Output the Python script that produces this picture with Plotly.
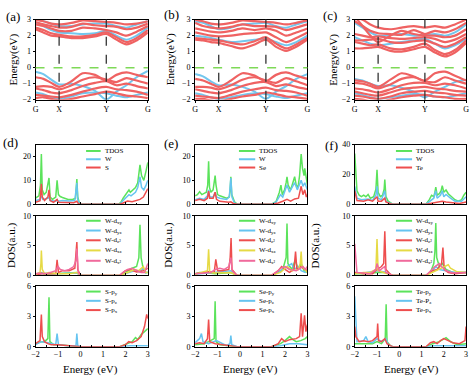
import plotly.graph_objects as go

# ---------------- data ----------------
KPATH_LABELS = ["G", "X", "Y", "G"]
KPATH_POS = [0.0, 0.21, 0.63, 1.0]
KP = [0, 0.07, 0.14, 0.21, 0.32, 0.42, 0.53, 0.63, 0.72, 0.81, 0.90, 1.0]

# (a) WS2 bands
A_RED = [
    [2.4, 2.2, 2.0, 1.95, 1.85, 1.85, 1.95, 2.1, 1.75, 1.45, 1.7, 2.2],
    [2.5, 2.35, 2.15, 2.05, 1.95, 1.95, 2.05, 2.2, 1.9, 1.6, 1.85, 2.35],
    [2.7, 2.6, 2.45, 2.3, 2.3, 2.5, 2.45, 2.35, 2.2, 2.0, 2.25, 2.6],
    [2.85, 2.7, 2.6, 2.5, 2.55, 2.75, 2.65, 2.6, 2.55, 2.4, 2.5, 2.75],
    [3.0, 2.9, 2.75, 2.7, 2.8, 2.95, 2.9, 2.85, 2.8, 2.7, 2.75, 2.9],
    [-0.6, -0.7, -0.95, -1.2, -0.85, -0.35, -0.45, -0.8, -0.45, -0.3, -0.45, -0.6],
    [-1.2, -1.15, -1.2, -1.35, -1.1, -0.75, -0.6, -0.75, -0.9, -0.65, -0.8, -1.0],
    [-1.3, -1.4, -1.55, -1.6, -1.4, -1.15, -0.95, -0.85, -1.1, -1.0, -1.15, -1.3],
    [-1.7, -1.75, -1.8, -1.85, -1.7, -1.5, -1.3, -1.2, -1.35, -1.4, -1.5, -1.7],
    [-1.9, -1.85, -1.95, -2.05, -1.95, -1.8, -1.65, -1.5, -1.6, -1.75, -1.8, -1.9],
]
A_BLUE = [
    [2.8, 2.6, 2.35, 2.2, 2.15, 2.1, 2.15, 2.3, 2.0, 1.75, 2.0, 2.5],
    [3.0, 2.9, 2.75, 2.6, 2.6, 2.7, 2.75, 2.75, 2.6, 2.5, 2.7, 2.9],
    [-0.25, -0.4, -0.75, -1.05, -1.0, -1.15, -1.45, -2.0, -1.5, -1.1, -0.6, -0.2],
    [-1.55, -1.65, -1.85, -1.95, -1.8, -1.6, -1.55, -1.6, -1.75, -1.85, -1.7, -1.55],
]
# (b) WSe2 bands
B_RED = [
    [1.75, 1.7, 1.6, 1.55, 1.35, 1.2, 1.45, 1.75, 1.3, 1.05, 1.3, 1.75],
    [1.85, 1.8, 1.75, 1.7, 1.55, 1.45, 1.65, 1.9, 1.5, 1.2, 1.45, 1.85],
    [2.2, 2.1, 2.0, 1.95, 2.0, 2.1, 2.15, 2.2, 1.9, 1.6, 1.85, 2.2],
    [2.45, 2.35, 2.25, 2.2, 2.3, 2.45, 2.35, 2.45, 2.3, 2.0, 2.2, 2.45],
    [2.8, 2.6, 2.5, 2.45, 2.55, 2.7, 2.6, 2.6, 2.55, 2.35, 2.5, 2.7],
    [3.0, 2.9, 2.75, 2.7, 2.8, 2.95, 2.9, 2.85, 2.8, 2.7, 2.8, 2.95],
    [-0.7, -0.8, -1.0, -1.2, -0.8, -0.35, -0.5, -0.85, -0.45, -0.3, -0.5, -0.7],
    [-1.2, -1.2, -1.25, -1.35, -1.1, -0.75, -0.6, -0.8, -0.95, -0.65, -0.85, -1.1],
    [-1.35, -1.45, -1.55, -1.6, -1.4, -1.15, -0.95, -0.9, -1.15, -1.05, -1.2, -1.35],
    [-1.75, -1.8, -1.85, -1.9, -1.7, -1.5, -1.35, -1.25, -1.4, -1.45, -1.55, -1.75],
    [-1.95, -1.95, -2.05, -2.1, -1.95, -1.8, -1.7, -1.55, -1.65, -1.8, -1.85, -1.95],
]
B_BLUE = [
    [2.0, 1.95, 1.85, 1.75, 1.6, 1.65, 1.75, 1.8, 1.6, 1.4, 1.6, 2.0],
    [2.9, 2.8, 2.6, 2.4, 2.5, 2.7, 2.75, 2.8, 2.6, 2.5, 2.7, 2.9],
    [-0.4, -0.55, -0.85, -1.1, -1.05, -1.2, -1.5, -1.95, -1.5, -1.15, -0.7, -0.4],
    [-1.6, -1.7, -1.85, -1.95, -1.85, -1.7, -1.6, -1.65, -1.8, -1.9, -1.75, -1.6],
]
# (c) WTe2 bands
C_RED = [
    [1.2, 1.2, 1.25, 1.3, 1.05, 1.0, 1.15, 1.3, 0.95, 0.7, 0.95, 1.55],
    [1.6, 1.5, 1.4, 1.45, 1.2, 1.15, 1.3, 1.5, 1.1, 0.85, 1.1, 1.7],
    [1.7, 1.7, 1.75, 1.8, 1.6, 1.55, 1.65, 1.7, 1.5, 1.3, 1.5, 1.9],
    [2.1, 2.0, 1.9, 1.95, 1.85, 1.8, 1.85, 1.9, 1.8, 1.6, 1.75, 2.1],
    [3.2, 2.6, 2.0, 1.6, 2.0, 2.3, 2.1, 2.0, 2.0, 1.9, 2.0, 2.4],
    [2.9, 2.6, 2.3, 2.15, 2.1, 2.05, 2.35, 2.1, 2.3, 2.2, 2.4, 2.8],
    [3.1, 3.0, 2.7, 2.5, 2.4, 2.5, 2.6, 2.5, 2.6, 2.5, 2.7, 3.0],
    [-0.8, -0.85, -1.0, -1.2, -0.75, -0.35, -0.55, -0.8, -0.35, -0.25, -0.5, -0.8],
    [-0.95, -1.0, -1.15, -1.3, -1.05, -0.7, -0.6, -0.85, -0.9, -0.6, -0.8, -1.0],
    [-1.3, -1.35, -1.45, -1.55, -1.35, -1.1, -0.95, -0.95, -1.1, -1.0, -1.1, -1.3],
    [-1.5, -1.6, -1.7, -1.75, -1.55, -1.35, -1.25, -1.2, -1.3, -1.35, -1.45, -1.5],
    [-1.75, -1.8, -1.9, -1.95, -1.8, -1.6, -1.5, -1.45, -1.55, -1.6, -1.7, -1.75],
    [-1.95, -2.0, -2.1, -2.15, -2.0, -1.85, -1.75, -1.7, -1.8, -1.85, -1.95, -1.95],
]
C_BLUE = [
    [1.9, 1.7, 1.5, 1.4, 1.5, 1.6, 1.7, 1.8, 1.5, 1.2, 1.4, 1.8],
    [2.8, 2.5, 2.2, 2.0, 2.05, 2.1, 2.0, 2.05, 2.1, 2.0, 2.2, 2.7],
    [-0.7, -0.8, -1.0, -1.15, -1.1, -1.25, -1.5, -1.85, -1.5, -1.2, -0.9, -0.75],
    [-1.6, -1.7, -1.85, -1.95, -1.85, -1.75, -1.65, -1.7, -1.8, -1.85, -1.75, -1.6],
]

# DOS curves: (energy eV, DOS) knots
D_TDOS = [(-2, 2.5), (-1.85, 3.5), (-1.78, 8), (-1.74, 21), (-1.70, 6), (-1.62, 4), (-1.52, 5), (-1.45, 8), (-1.40, 11), (-1.35, 3), (-1.25, 2), (-1.10, 3), (-1.04, 10), (-0.98, 4), (-0.9, 3.2), (-0.8, 2.8), (-0.7, 2.5), (-0.55, 2), (-0.35, 2), (-0.22, 2.5), (-0.16, 10.5), (-0.12, 3), (-0.05, 0.5), (0.0, 0), (1.7, 0), (1.8, 0.8), (1.9, 2.5), (2.0, 4), (2.1, 5), (2.16, 6), (2.22, 5), (2.35, 6), (2.45, 7), (2.55, 9), (2.65, 16.5), (2.72, 12), (2.82, 10), (2.92, 14), (3.0, 17.5)]
D_W = [(-2, 1.5), (-1.8, 2), (-1.74, 3.5), (-1.68, 2), (-1.45, 2.5), (-1.40, 3), (-1.35, 1.5), (-1.1, 1.2), (-1.04, 1.8), (-0.98, 1.2), (-0.8, 1.5), (-0.5, 1.3), (-0.25, 1.5), (-0.16, 9), (-0.12, 2), (-0.05, 0.3), (0, 0), (1.75, 0), (1.9, 1.5), (2.0, 2.5), (2.16, 4), (2.25, 3.5), (2.45, 5), (2.55, 7), (2.65, 11.5), (2.72, 7), (2.82, 6), (2.92, 8), (3.0, 10)]
D_S = [(-2, 0.8), (-1.8, 1.5), (-1.74, 8.5), (-1.70, 3), (-1.6, 1.5), (-1.45, 3), (-1.40, 6), (-1.35, 1.5), (-1.2, 0.8), (-1.04, 2), (-0.98, 0.8), (-0.7, 0.8), (-0.3, 0.6), (-0.16, 1.2), (-0.1, 0.3), (0, 0), (1.75, 0), (1.9, 0.5), (2.1, 1.3), (2.3, 1), (2.5, 1.5), (2.65, 2), (2.8, 3), (2.9, 4.5), (3.0, 6.5)]
D_DXY = [(-2, 0.2), (-1.74, 0.5), (-1.6, 0.2), (-1.0, 0.3), (-0.16, 0.5), (0, 0), (1.75, 0), (2.0, 0.5), (2.3, 1.2), (2.5, 1.5), (2.6, 3), (2.65, 8.5), (2.7, 3), (2.8, 1), (2.9, 0.5), (3.0, 0.5)]
D_DYZ = [(-2, 0.1), (-1.74, 0.3), (-1.4, 0.4), (-1.04, 0.3), (-0.16, 0.4), (0, 0), (1.75, 0), (2.1, 0.5), (2.4, 0.8), (2.65, 0.6), (2.8, 1.2), (2.9, 0.4), (3.0, 0.6)]
D_DZ2 = [(-2, 0.1), (-1.74, 0.3), (-1.1, 0.3), (-1.04, 2.6), (-0.98, 0.5), (-0.8, 0.8), (-0.5, 0.8), (-0.25, 1.2), (-0.16, 5.6), (-0.12, 1), (0, 0), (1.75, 0), (2.0, 0.8), (2.2, 1.0), (2.5, 0.6), (2.8, 0.8), (3.0, 1.2)]
D_DXZ = [(-2, 0.2), (-1.8, 0.5), (-1.76, 2), (-1.74, 4.2), (-1.70, 1), (-1.6, 0.3), (-1.4, 0.5), (-1.0, 0.3), (-0.5, 0.3), (-0.16, 0.5), (0, 0), (1.75, 0), (2.1, 0.5), (2.4, 1), (2.6, 0.8), (2.8, 1.5), (2.9, 0.5), (3.0, 0.5)]
D_DX2 = [(-2, 0.3), (-1.8, 0.4), (-1.5, 0.3), (-1.1, 0.8), (-1.0, 1.5), (-0.9, 1.0), (-0.7, 0.8), (-0.5, 1), (-0.3, 1.5), (-0.2, 2.5), (-0.16, 4.5), (-0.1, 0.5), (0, 0), (1.75, 0), (1.9, 0.5), (2.1, 1), (2.3, 1.2), (2.5, 0.8), (2.7, 0.5), (2.85, 0.5), (2.95, 1.5), (3.0, 2.0)]
D_PY = [(-2, 0.3), (-1.74, 0.5), (-1.6, 0.5), (-1.45, 0.8), (-1.40, 4.9), (-1.36, 0.5), (-1.2, 0.2), (-1.0, 0.2), (-0.5, 0.1), (0, 0), (1.75, 0), (2.1, 0.3), (2.3, 0.5), (2.45, 0.9), (2.55, 0.7), (2.7, 1.2), (2.85, 1.5), (3.0, 1.8)]
D_PZ = [(-2, 0.2), (-1.74, 0.5), (-1.45, 0.4), (-1.1, 0.2), (-1.04, 1.3), (-0.98, 0.2), (-0.6, 0.1), (-0.2, 0.1), (-0.16, 1.3), (-0.12, 0.1), (0, 0), (1.75, 0), (2.2, 0.1), (2.5, 0.1), (3.0, 0.1)]
D_PX = [(-2, 0.3), (-1.8, 0.6), (-1.74, 3.2), (-1.70, 1), (-1.6, 0.5), (-1.45, 0.3), (-1.3, 0.2), (-1.0, 0.2), (-0.5, 0.1), (0, 0), (1.75, 0), (2.0, 0.2), (2.15, 0.5), (2.3, 0.4), (2.5, 0.6), (2.7, 1), (2.85, 2), (2.95, 3.2), (3.0, 2.8)]

E_TDOS = [(-2, 3.5), (-1.9, 4), (-1.8, 5.2), (-1.7, 4), (-1.6, 4.5), (-1.5, 5), (-1.44, 8), (-1.40, 18), (-1.36, 7), (-1.3, 5), (-1.2, 6), (-1.14, 9), (-1.11, 12), (-1.07, 8), (-1.0, 4), (-0.9, 3.5), (-0.75, 3), (-0.6, 2.5), (-0.48, 3), (-0.44, 6), (-0.41, 11.5), (-0.37, 4), (-0.25, 1), (-0.13, 0), (1.4, 0), (1.6, 1), (1.75, 5), (1.82, 8), (1.88, 4), (1.98, 6), (2.05, 9), (2.09, 11.5), (2.14, 8), (2.25, 6), (2.35, 9), (2.43, 11.5), (2.5, 8), (2.58, 7), (2.65, 12), (2.72, 21), (2.78, 15), (2.85, 12), (2.88, 15), (2.95, 10), (3.0, 8)]
E_W = [(-2, 1.8), (-1.8, 2.5), (-1.6, 2), (-1.45, 3.5), (-1.40, 6), (-1.35, 3), (-1.2, 3), (-1.11, 5), (-1.05, 3), (-0.9, 2.5), (-0.6, 2), (-0.48, 3), (-0.41, 11), (-0.36, 3), (-0.25, 0.5), (-0.13, 0), (1.4, 0), (1.6, 0.8), (1.8, 4), (1.9, 3), (2.09, 8), (2.2, 5), (2.43, 9), (2.55, 6), (2.72, 10), (2.8, 7.5), (2.88, 9), (3.0, 6)]
E_SE = [(-2, 1.5), (-1.8, 2), (-1.6, 1.5), (-1.45, 2.5), (-1.40, 5.5), (-1.35, 2.5), (-1.2, 2.5), (-1.11, 5), (-1.05, 2), (-0.9, 1.2), (-0.5, 0.8), (-0.41, 1), (-0.3, 0.3), (-0.13, 0), (1.4, 0), (1.7, 0.5), (1.9, 1.2), (2.09, 2), (2.25, 1.3), (2.43, 2.2), (2.6, 2.5), (2.72, 7.5), (2.8, 4), (2.88, 6), (2.95, 3), (3.0, 4)]
E_DXY = [(-2, 0.3), (-1.8, 0.5), (-1.4, 0.4), (-1.1, 0.3), (-0.41, 0.5), (-0.13, 0), (1.4, 0), (1.7, 0.5), (1.9, 1), (2.05, 3), (2.09, 8.7), (2.13, 2), (2.3, 1), (2.45, 2.5), (2.6, 1), (2.72, 2), (2.85, 0.8), (3.0, 0.5)]
E_DYZ = [(-2, 0.2), (-1.7, 0.3), (-1.4, 0.5), (-1.1, 0.5), (-0.41, 0.8), (-0.13, 0), (1.4, 0), (1.8, 0.8), (2.09, 1.5), (2.3, 2), (2.4, 1), (2.6, 1.5), (2.72, 0.8), (2.9, 0.5), (3.0, 0.8)]
E_DZ2 = [(-2, 0.3), (-1.4, 0.6), (-1.15, 0.5), (-1.08, 2.7), (-1.0, 0.8), (-0.8, 0.8), (-0.5, 1), (-0.44, 3), (-0.40, 6.3), (-0.36, 1), (-0.13, 0), (1.4, 0), (1.7, 0.8), (1.85, 1.5), (2.0, 1), (2.2, 0.5), (2.4, 1), (2.47, 4), (2.53, 1), (2.7, 1.5), (2.9, 1), (3.0, 0.8)]
E_DXZ = [(-2, 0.2), (-1.45, 0.8), (-1.40, 4.4), (-1.35, 0.5), (-1.1, 0.4), (-0.41, 0.5), (-0.13, 0), (1.4, 0), (1.8, 0.5), (2.1, 1.5), (2.3, 0.8), (2.6, 1), (2.68, 2), (2.72, 4), (2.76, 1.5), (2.9, 1), (3.0, 0.5)]
E_DX2 = [(-2, 0.3), (-1.6, 0.4), (-1.3, 0.5), (-1.1, 1), (-0.9, 1.2), (-0.7, 1), (-0.5, 1.5), (-0.41, 3), (-0.35, 0.8), (-0.2, 0.2), (-0.13, 0), (1.4, 0), (1.6, 0.5), (1.8, 1.2), (2.0, 1.5), (2.2, 1), (2.5, 0.8), (2.8, 1.5), (2.9, 1), (3.0, 1.5)]
E_PY = [(-2, 0.2), (-1.6, 0.3), (-1.4, 0.5), (-1.15, 0.8), (-1.11, 4.5), (-1.07, 0.5), (-0.9, 0.2), (-0.5, 0.1), (-0.13, 0), (1.4, 0), (1.8, 0.3), (2.0, 0.6), (2.2, 1.0), (2.35, 0.7), (2.5, 0.5), (2.7, 0.6), (2.9, 0.8), (3.0, 1)]
E_PZ = [(-2, 0.4), (-1.8, 0.8), (-1.72, 1.3), (-1.65, 0.5), (-1.4, 0.3), (-1.15, 0.5), (-1.05, 0.6), (-0.6, 0.1), (-0.45, 0.3), (-0.41, 1.1), (-0.37, 0.2), (-0.13, 0), (1.4, 0), (1.8, 0.1), (2.2, 0.3), (2.6, 0.3), (3.0, 0.2)]
E_PX = [(-2, 0.3), (-1.8, 0.4), (-1.6, 0.3), (-1.45, 0.8), (-1.40, 2.7), (-1.35, 0.5), (-1.1, 0.3), (-0.8, 0.2), (-0.5, 0.1), (-0.13, 0), (1.4, 0), (1.7, 0.3), (1.85, 0.8), (2.0, 0.5), (2.2, 0.7), (2.5, 0.8), (2.65, 1), (2.72, 3.3), (2.78, 1), (2.87, 3.1), (2.93, 1.5), (3.0, 2.2)]

F_TDOS = [(-2, 34), (-1.95, 20), (-1.9, 9), (-1.8, 6), (-1.7, 5), (-1.6, 6), (-1.5, 5), (-1.4, 6.5), (-1.3, 4), (-1.15, 5), (-1.05, 10), (-1.0, 23), (-0.95, 8), (-0.85, 5), (-0.75, 6), (-0.68, 10), (-0.65, 16.5), (-0.6, 5), (-0.5, 2), (-0.4, 1), (-0.3, 0), (1.2, 0), (1.35, 3), (1.45, 6), (1.55, 5), (1.6, 8), (1.64, 11.5), (1.7, 6), (1.8, 7), (1.88, 9), (1.93, 12.5), (2.0, 8), (2.1, 9.5), (2.2, 7), (2.35, 5), (2.5, 3), (2.65, 2), (2.8, 3), (2.9, 6), (3.0, 8)]
F_W = [(-2, 12), (-1.95, 8), (-1.9, 4), (-1.7, 3), (-1.4, 3.5), (-1.2, 2.5), (-1.05, 6), (-1.0, 12), (-0.95, 4), (-0.8, 3), (-0.65, 9), (-0.6, 2), (-0.4, 0.5), (-0.3, 0), (1.2, 0), (1.4, 2), (1.55, 4), (1.64, 9), (1.7, 4), (1.85, 6), (1.93, 9), (2.0, 5), (2.1, 6.5), (2.3, 4), (2.5, 2), (2.8, 2), (3.0, 5)]
F_TE = [(-2, 9), (-1.95, 5), (-1.9, 2.5), (-1.6, 2), (-1.4, 3), (-1.2, 2), (-1.0, 5), (-0.95, 2), (-0.8, 2), (-0.65, 4), (-0.6, 1.5), (-0.4, 0.3), (-0.3, 0), (1.2, 0), (1.4, 0.5), (1.64, 1.5), (1.93, 2), (2.1, 1.5), (2.4, 1), (2.7, 0.5), (3.0, 1.5)]
F_DXY = [(-2, 0.3), (-1.6, 0.3), (-1.0, 0.5), (-0.65, 0.5), (-0.3, 0), (1.2, 0), (1.4, 0.5), (1.55, 2), (1.6, 4), (1.64, 8.8), (1.68, 3), (1.8, 1.5), (1.93, 2), (2.1, 1), (2.4, 0.5), (3.0, 0.5)]
F_DYZ = [(-2, 0.5), (-1.6, 0.4), (-1.0, 0.8), (-0.65, 0.6), (-0.3, 0), (1.2, 0), (1.5, 0.8), (1.64, 1.5), (1.8, 1), (2.1, 0.8), (2.5, 0.5), (3.0, 0.5)]
F_DZ2 = [(-2, 0.5), (-1.6, 0.3), (-1.2, 0.3), (-1.0, 1), (-0.8, 1.5), (-0.7, 2), (-0.65, 7.4), (-0.6, 1), (-0.4, 0.2), (-0.3, 0), (1.2, 0), (1.5, 0.8), (1.7, 1), (1.9, 2), (1.96, 4.7), (2.02, 1), (2.2, 0.5), (2.5, 0.3), (3.0, 0.5)]
F_DXZ = [(-2, 0.3), (-1.6, 0.5), (-1.3, 0.5), (-1.05, 1), (-1.0, 6.1), (-0.95, 0.8), (-0.7, 0.5), (-0.4, 0.2), (-0.3, 0), (1.2, 0), (1.5, 0.5), (1.8, 1), (2.1, 1.5), (2.2, 1.8), (2.3, 1.2), (2.6, 0.6), (3.0, 0.5)]
F_DX2 = [(-2, 5.3), (-1.95, 2), (-1.9, 0.5), (-1.6, 0.4), (-1.3, 0.3), (-1.05, 1), (-1.0, 2), (-0.9, 0.8), (-0.65, 1.5), (-0.6, 0.5), (-0.3, 0), (1.2, 0), (1.4, 0.8), (1.6, 1.5), (1.8, 2), (1.9, 1.5), (2.1, 0.8), (2.4, 0.4), (3.0, 0.5)]
F_PY = [(-2, 0.3), (-1.6, 0.3), (-1.2, 0.3), (-1.0, 0.5), (-0.8, 0.3), (-0.63, 0.8), (-0.59, 4.2), (-0.55, 0.5), (-0.4, 0.1), (-0.3, 0), (1.2, 0), (1.5, 0.3), (1.8, 0.5), (2.1, 0.9), (2.3, 0.5), (2.6, 0.2), (3.0, 0.3)]
F_PZ = [(-2, 5), (-1.95, 2), (-1.9, 0.5), (-1.6, 0.6), (-1.5, 1), (-1.4, 0.5), (-1.2, 0.4), (-1.0, 0.8), (-0.8, 0.5), (-0.6, 0.8), (-0.5, 0.2), (-0.3, 0), (1.2, 0), (1.6, 0.1), (2.0, 0.1), (3.0, 0.1)]
F_PX = [(-2, 2), (-1.95, 1), (-1.8, 0.5), (-1.6, 0.6), (-1.4, 0.5), (-1.2, 0.6), (-1.0, 1), (-0.97, 2.3), (-0.93, 0.6), (-0.8, 0.5), (-0.65, 0.8), (-0.55, 0.3), (-0.4, 0.1), (-0.3, 0), (1.2, 0), (1.4, 0.4), (1.55, 0.5), (1.7, 0.3), (1.85, 0.6), (2.0, 0.8), (2.2, 0.6), (2.4, 0.4), (2.7, 0.3), (2.95, 0.6), (3.0, 2)]

# ---------------- styling ----------------
W, H = 474, 381
FONT = "Liberation Serif"
BAND_RED = "#EF6262"
BAND_BLUE = "#72C6EE"
COL_GREEN = "#5BE35B"
COL_BLUE = "#66C4F0"
COL_RED = "#EE4E4E"
COL_YEL = "#E6DA45"
COL_PINK = "#F06A9C"

COLS = [(32, 146), (194, 308), (356, 469)]
BAND_ROW = (16, 98)
DOS_ROWS = [(144, 205), (217, 278), (289, 351)]


def xdom(c):
    return [c[0] / W, c[1] / W]


def ydom(r):
    return [1 - r[1] / H, 1 - r[0] / H]


def paper_text(text, px, py, size, angle=0):
    return dict(text=text, x=px / W, y=1 - py / H, xref="paper", yref="paper",
                xanchor="center", yanchor="middle", textangle=angle, showarrow=False,
                font=dict(size=size, family=FONT, color="black"))


fig = go.Figure()
layout = dict(width=W, height=H, margin=dict(l=0, r=0, t=0, b=0),
              paper_bgcolor="white", plot_bgcolor="white", showlegend=False,
              font=dict(family=FONT, color="black"), hovermode=False)
shapes, annotations = [], []

axis_common = dict(showline=True, linecolor="black", linewidth=1, mirror=True,
                   showgrid=False, zeroline=False,
                   tickfont=dict(family=FONT, size=8, color="black"),
                   ticklen=2, tickcolor="black", tickwidth=1)

band_sets = [(A_RED, A_BLUE), (B_RED, B_BLUE), (C_RED, C_BLUE)]
for i, (reds, blues) in enumerate(band_sets):
    n = i + 1
    xa = "x" if n == 1 else f"x{n}"
    ya = "y" if n == 1 else f"y{n}"
    for b in blues:
        fig.add_trace(go.Scatter(x=KP, y=b, mode="lines", xaxis=xa, yaxis=ya,
                                 line=dict(color=BAND_BLUE, width=2, shape="spline", smoothing=0.8)))
    for b in reds:
        fig.add_trace(go.Scatter(x=KP, y=b, mode="lines", xaxis=xa, yaxis=ya,
                                 line=dict(color=BAND_RED, width=2.2, shape="spline", smoothing=0.8)))
    layout[f"xaxis{n if n > 1 else ''}"] = dict(axis_common, domain=xdom(COLS[i]), range=[0, 1],
                                                tickvals=KPATH_POS, ticktext=KPATH_LABELS,
                                                ticks="outside", anchor=ya)
    layout[f"yaxis{n if n > 1 else ''}"] = dict(axis_common, domain=ydom(BAND_ROW), range=[-2, 3],
                                                dtick=1, ticks="outside", anchor=xa)
    shapes.append(dict(type="line", xref=f"{xa} domain", yref=ya, x0=0, x1=1, y0=0, y1=0,
                       line=dict(color="#7ED957", width=1.5, dash="dash")))
    for kv in KPATH_POS[1:3]:
        shapes.append(dict(type="line", xref=xa, yref=f"{ya} domain", x0=kv, x1=kv, y0=0, y1=1,
                           line=dict(color="#333333", width=1.3, dash="dash")))
    annotations.append(paper_text("Energy(eV)", [10, 169, 335][i], 57, 11, -90))

dos_cols = [
    ([("TDOS", D_TDOS, COL_GREEN), ("W", D_W, COL_BLUE), ("S", D_S, COL_RED)],
     [("W-d<sub>xy</sub>", D_DXY, COL_GREEN), ("W-d<sub>yz</sub>", D_DYZ, COL_BLUE), ("W-d<sub>z²</sub>", D_DZ2, COL_RED),
      ("W-d<sub>xz</sub>", D_DXZ, COL_YEL), ("W-d<sub>x²</sub>", D_DX2, COL_PINK)],
     [("S-p<sub>y</sub>", D_PY, COL_GREEN), ("S-p<sub>z</sub>", D_PZ, COL_BLUE), ("S-p<sub>x</sub>", D_PX, COL_RED)]),
    ([("TDOS", E_TDOS, COL_GREEN), ("W", E_W, COL_BLUE), ("Se", E_SE, COL_RED)],
     [("W-d<sub>xy</sub>", E_DXY, COL_GREEN), ("W-d<sub>yz</sub>", E_DYZ, COL_BLUE), ("W-d<sub>z²</sub>", E_DZ2, COL_RED),
      ("W-d<sub>xz</sub>", E_DXZ, COL_YEL), ("W-d<sub>x²</sub>", E_DX2, COL_PINK)],
     [("Se-p<sub>y</sub>", E_PY, COL_GREEN), ("Se-p<sub>z</sub>", E_PZ, COL_BLUE), ("Se-p<sub>x</sub>", E_PX, COL_RED)]),
    ([("TDOS", F_TDOS, COL_GREEN), ("W", F_W, COL_BLUE), ("Te", F_TE, COL_RED)],
     [("W-d<sub>xy</sub>", F_DXY, COL_GREEN), ("W-d<sub>yz</sub>", F_DYZ, COL_BLUE), ("W-d<sub>z²</sub>", F_DZ2, COL_RED),
      ("W-d<sub>xz</sub>", F_DXZ, COL_YEL), ("W-d<sub>x²</sub>", F_DX2, COL_PINK)],
     [("Te-p<sub>y</sub>", F_PY, COL_GREEN), ("Te-P<sub>z</sub>", F_PZ, COL_BLUE), ("Te-p<sub>x</sub>", F_PX, COL_RED)]),
]
y_ranges = [[[0, 25], [0, 10], [0, 6]], [[0, 25], [0, 10], [0, 6]], [[0, 40], [0, 10], [0, 6]]]
y_dticks = [[10, 5, 3], [10, 5, 3], [20, 5, 3]]
leg_x = [(0.45, 0.58, 0.60), (0.39, 0.535, 0.555), (0.37, 0.515, 0.535)]
leg_y = [[0.893, 0.754, 0.615], [0.918, 0.754, 0.59, 0.42, 0.246], [0.911, 0.758, 0.605]]

for c in range(3):
    for r in range(3):
        n = 4 + c * 3 + r
        xa, ya = f"x{n}", f"y{n}"
        curves = dos_cols[c][r]
        for label, pts, col in curves:
            fig.add_trace(go.Scatter(x=[p[0] for p in pts], y=[p[1] for p in pts], mode="lines",
                                     xaxis=xa, yaxis=ya, line=dict(color=col, width=1.5)))
        layout[f"xaxis{n}"] = dict(axis_common, domain=xdom(COLS[c]), range=[-2, 3], dtick=1,
                                   ticks="inside", showticklabels=(r == 2), anchor=ya,
                                   minor=dict(ticks="inside", ticklen=1.5, dtick=0.5, tickcolor="black"))
        layout[f"yaxis{n}"] = dict(axis_common, domain=ydom(DOS_ROWS[r]), range=y_ranges[c][r],
                                   dtick=y_dticks[c][r], ticks="outside", anchor=xa)
        x0, x1, xt = leg_x[c]
        for j, (label, pts, col) in enumerate(curves):
            yy = leg_y[r][j]
            shapes.append(dict(type="line", xref=f"{xa} domain", yref=f"{ya} domain",
                               x0=x0, x1=x1, y0=yy, y1=yy, line=dict(color=col, width=2)))
            annotations.append(dict(text=label, x=xt, y=yy, xref=f"{xa} domain", yref=f"{ya} domain",
                                    xanchor="left", yanchor="middle", showarrow=False,
                                    font=dict(size=7, family=FONT, color="black")))
    annotations.append(paper_text("DOS(a.u.)", [7, 167, 316][c], 247, 11, -90))
    annotations.append(paper_text("Energy (eV)", [88, 250, 414][c], 374, 11))

panel_labels = [("(a)", 9, 13), ("(b)", 170, 11), ("(c)", 331, 12),
                ("(d)", 7, 142), ("(e)", 169, 143), ("(f)", 332, 145)]
for t, px, py in panel_labels:
    annotations.append(paper_text(t, px, py, 13))

layout["shapes"] = shapes
layout["annotations"] = annotations
for tr in fig.data:
    tr.showlegend = False
    tr.hoverinfo = "skip"
fig.update_layout(**layout)
fig.write_html("out.html", config={"displayModeBar": False, "staticPlot": True},
               post_script="document.body.style.margin='0px';document.body.style.padding='0px';")
